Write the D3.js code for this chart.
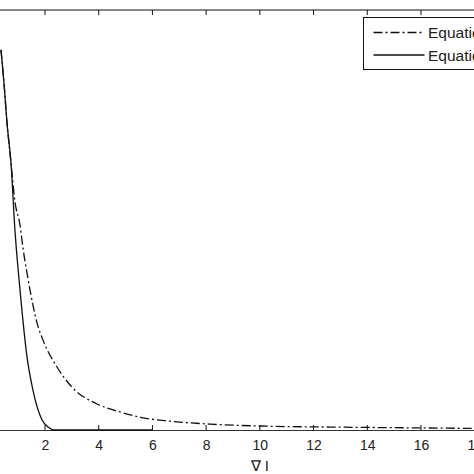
<!DOCTYPE html>
<html>
<head>
<meta charset="utf-8">
<script src="https://cdn.jsdelivr.net/npm/d3@7"></script>
<style>
  body { margin: 0; background: #fff; }
  svg { display: block; }
  text { font-family: "Liberation Sans", Arial, sans-serif; fill: #222; }
</style>
</head>
<body>
<div id="chart"></div>
<script>
// values
const gradX = [0.361, 0.473, 0.585, 0.733, 0.882, 1.069, 1.18, 1.329, 1.478, 1.702, 1.925, 2.446, 3.005, 3.935, 4.792, 5.648, 6.653, 8.142, 10.0, 12.61, 15.96, 20.0];
const eqDashDot = [0.905, 0.826, 0.731, 0.636, 0.543, 0.488, 0.433, 0.374, 0.321, 0.255, 0.214, 0.150, 0.102, 0.062, 0.043, 0.029, 0.021, 0.014, 0.0095, 0.007, 0.005, 0.0024];

const solidX = [0.361, 0.473, 0.585, 0.733, 0.88, 1.07, 1.33, 1.55, 1.89, 2.11, 2.37, 3, 4, 5, 6];
const eqSolid = [0.905, 0.826, 0.731, 0.636, 0.476, 0.333, 0.174, 0.095, 0.024, 0.007, 0, 0, 0, 0, 0];

const xTicks = [0, 2, 4, 6, 8, 10, 12, 14, 16, 18, 20];
const xLabels = [2, 4, 6, 8, 10, 12, 14, 16, 18];
const legendNames = ["Equation (3)", "Equation (4)"];

let width = 474, height = 474;

let svg = d3.select("#chart").append("svg")
    .attr("width", width)
    .attr("height", height);

let x = d3.scaleLinear().domain([0, 20]).range([-8.7, 528.4]);
let y = d3.scaleLinear().domain([0, 1]).range([430, 10]);

let line = d3.line()
    .x(d => x(d[0]))
    .y(d => y(d[1]))
    .curve(d3.curveMonotoneX);

// top frame line
svg.append("line")
    .attr("x1", x(0)).attr("x2", x(20))
    .attr("y1", y(1)).attr("y2", y(1))
    .attr("stroke", "#111").attr("stroke-width", 1);

// bottom axis
let xAxis = d3.axisBottom(x).tickValues(xLabels).tickSize(0).tickPadding(10);
let gx = svg.append("g")
    .attr("transform", "translate(0," + y(0) + ")")
    .call(xAxis);
gx.select(".domain").attr("stroke", "#333").attr("stroke-width", 1.2);
gx.selectAll("text").style("font-size", "14px").attr("fill", "#222");

// inward ticks bottom and top
svg.selectAll(".tickb").data(xTicks).enter().append("line")
    .attr("x1", d => x(d)).attr("x2", d => x(d))
    .attr("y1", y(0)).attr("y2", y(0) - 5)
    .attr("stroke", "#111");
svg.selectAll(".tickt").data(xTicks).enter().append("line")
    .attr("x1", d => x(d)).attr("x2", d => x(d))
    .attr("y1", y(1)).attr("y2", y(1) + 5)
    .attr("stroke", "#111");

svg.append("text")
    .attr("x", x(10)).attr("y", 471)
    .attr("text-anchor", "middle")
    .style("font-size", "15px")
    .text("∇ I");

// curves
svg.append("path")
    .datum(gradX.map((d, i) => [d, eqDashDot[i]]))
    .attr("d", line)
    .attr("fill", "none")
    .attr("stroke", "#111")
    .attr("stroke-width", 1.3)
    .attr("stroke-dasharray", "9,3,2,3");

svg.append("path")
    .datum(solidX.map((d, i) => [d, eqSolid[i]]))
    .attr("d", line)
    .attr("fill", "none")
    .attr("stroke", "#111")
    .attr("stroke-width", 1.3);

// legend
let legend = svg.append("g").attr("transform", "translate(363.5,17.5)");
legend.append("rect")
    .attr("width", 160).attr("height", 52)
    .attr("fill", "#fff").attr("stroke", "#111").attr("stroke-width", 1);
legendNames.forEach((name, i) => {
    let ly = 15 + i * 22.5;
    legend.append("line")
        .attr("x1", 10).attr("x2", 61)
        .attr("y1", ly).attr("y2", ly)
        .attr("stroke", "#111").attr("stroke-width", 1.3)
        .attr("stroke-dasharray", i === 0 ? "9,3,2,3" : null);
    legend.append("text")
        .attr("x", 64.5).attr("y", ly + 5.5)
        .style("font-size", "15.5px")
        .text(name);
});
</script>
</body>
</html>
